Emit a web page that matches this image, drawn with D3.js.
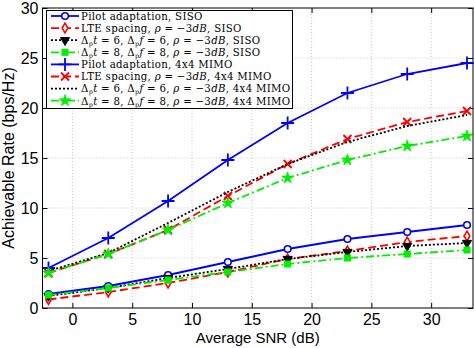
<!DOCTYPE html>
<html>
<head>
<meta charset="utf-8">
<script src="https://cdn.jsdelivr.net/npm/d3@7"></script>
<style>
    body { margin: 0; background: #fff; }
    svg { display: block; }
    .tick text { font-family: "Liberation Sans", Arial, sans-serif; font-size: 16px; }
</style>
</head>
<body>
<svg id="chart" width="474" height="348"></svg>
<script>
// SNR points (dB)
const snr = [-2, 3, 8, 13, 18, 23, 28, 33];

// SISO
const pilotSiso = [1.4, 2.2, 3.3, 4.6, 5.9, 6.9, 7.6, 8.3];
const lteSiso = [0.85, 1.6, 2.5, 3.6, 4.9, 5.7, 6.6, 7.2];
const d6Siso = [1.2, 2.0, 3.0, 3.9, 4.9, 5.6, 6.2, 6.5];
const d8Siso = [1.3, 2.0, 2.8, 3.6, 4.4, 5.0, 5.4, 5.8];

// 4x4 MIMO
const pilotMimo = [4.0, 7.0, 10.7, 14.8, 18.5, 21.5, 23.4, 24.5];
const lteMimo = [3.5, 5.4, 7.8, 11.2, 14.4, 16.9, 18.6, 19.7];
const d6Mimo = [3.7, 5.5, 8.5, 11.6, 14.4, 16.6, 18.2, 19.3];
const d8Mimo = [3.5, 5.4, 7.8, 10.5, 13.0, 14.8, 16.2, 17.2];

const xTicks = [0, 5, 10, 15, 20, 25, 30];
const yTicks = [0, 5, 10, 15, 20, 25, 30];

const svg = d3.select('#chart');
const pLeft = 42.5, pRight = 473, pTop = 8, pBottom = 308;

const x = d3.scaleLinear().domain([-2.5, 33.5]).range([pLeft, pRight]);
const y = d3.scaleLinear().domain([0, 30]).range([pBottom, pTop]);

// grid
const grid = svg.append('g')
    .attr('stroke', '#bdbdbd')
    .attr('stroke-width', 0.8)
    .attr('stroke-dasharray', '1,2');
xTicks.forEach(t => grid.append('line')
    .attr('x1', x(t)).attr('x2', x(t)).attr('y1', pTop).attr('y2', pBottom));
yTicks.slice(1, -1).forEach(t => grid.append('line')
    .attr('x1', pLeft).attr('x2', pRight).attr('y1', y(t)).attr('y2', y(t)));

// axes, ticks pointing inward
svg.append('g')
    .attr('transform', `translate(0,${pBottom})`)
    .call(d3.axisBottom(x).tickValues(xTicks).tickSize(-5).tickPadding(6))
    .call(g => g.select('.domain').remove());
svg.append('g')
    .attr('transform', `translate(0,${pTop})`)
    .call(d3.axisTop(x).tickValues(xTicks).tickSize(-5).tickFormat(''))
    .call(g => g.select('.domain').remove());
svg.append('g')
    .attr('transform', `translate(${pLeft},0)`)
    .call(d3.axisLeft(y).tickValues(yTicks).tickSize(-5).tickPadding(4))
    .call(g => g.select('.domain').remove());
svg.append('g')
    .attr('transform', `translate(${pRight},0)`)
    .call(d3.axisRight(y).tickValues(yTicks).tickSize(-5).tickFormat(''))
    .call(g => g.select('.domain').remove());
svg.selectAll('.tick text').attr('fill', '#000');
svg.selectAll('.tick line').attr('stroke', '#000');

svg.append('text')
    .attr('x', (pLeft + pRight) / 2).attr('y', 343)
    .attr('text-anchor', 'middle')
    .style('font-family', '"Liberation Sans", Arial, sans-serif')
    .style('font-size', '15px')
    .text('Average SNR (dB)');
svg.append('text')
    .attr('transform', `translate(14,${(pTop + pBottom) / 2}) rotate(-90)`)
    .attr('text-anchor', 'middle')
    .style('font-family', '"Liberation Sans", Arial, sans-serif')
    .style('font-size', '16px')
    .text('Achievable Rate (bps/Hz)');

// marker drawing
function marker(g, type, color, cx, cy) {
    if (type === 'circle') {
        g.append('circle').attr('cx', cx).attr('cy', cy).attr('r', 3.3)
            .attr('fill', '#fff').attr('stroke', color).attr('stroke-width', 1.6);
    } else if (type === 'diamond') {
        g.append('path').attr('d', d3.symbol(d3.symbolDiamond, 28)())
            .attr('transform', `translate(${cx},${cy})`)
            .attr('fill', '#fff').attr('stroke', color).attr('stroke-width', 1.6);
    } else if (type === 'triangle') {
        g.append('path').attr('d', d3.symbol(d3.symbolTriangle, 36)())
            .attr('transform', `translate(${cx},${cy}) rotate(180)`)
            .attr('fill', color).attr('stroke', color).attr('stroke-width', 1);
    } else if (type === 'square') {
        g.append('rect').attr('x', cx - 3).attr('y', cy - 3).attr('width', 6).attr('height', 6)
            .attr('fill', color).attr('stroke', color);
    } else if (type === 'plus') {
        g.append('path').attr('d', `M${cx - 6.5},${cy}H${cx + 6.5}M${cx},${cy - 6.5}V${cy + 6.5}`)
            .attr('stroke', color).attr('stroke-width', 1.8);
    } else if (type === 'x') {
        g.append('path').attr('d', `M${cx - 4},${cy - 4}L${cx + 4},${cy + 4}M${cx - 4},${cy + 4}L${cx + 4},${cy - 4}`)
            .attr('stroke', color).attr('stroke-width', 1.8);
    } else if (type === 'star') {
        g.append('path').attr('d', d3.symbol(d3.symbolStar, 42)())
            .attr('transform', `translate(${cx},${cy})`)
            .attr('fill', color).attr('stroke', color).attr('stroke-width', 0.8);
    }
}

const blue = '#0000ff', red = '#ff0000', black = '#000000', green = '#00ee00';
const solid = null, dashed = '8,4', dotted = '2,2', dashdot = '8,3,2,3';

const series = [
    {vals: pilotSiso, color: blue, dash: solid, mark: 'circle'},
    {vals: lteSiso, color: red, dash: dashed, mark: 'diamond'},
    {vals: d6Siso, color: black, dash: dotted, mark: 'triangle'},
    {vals: d8Siso, color: green, dash: dashdot, mark: 'square'},
    {vals: pilotMimo, color: blue, dash: solid, mark: 'plus'},
    {vals: lteMimo, color: red, dash: dashed, mark: 'x'},
    {vals: d6Mimo, color: black, dash: dotted, mark: null},
    {vals: d8Mimo, color: green, dash: dashdot, mark: 'star'}
];

const line = d3.line().x(d => x(d[0])).y(d => y(d[1]));
const plot = svg.append('g');
series.forEach(s => {
    const pts = snr.map((v, i) => [v, s.vals[i]]);
    plot.append('path').datum(pts)
        .attr('d', line)
        .attr('fill', 'none')
        .attr('stroke', s.color)
        .attr('stroke-width', 1.8)
        .attr('stroke-dasharray', s.dash);
    if (s.mark)
        pts.forEach(p => marker(plot, s.mark, s.color, x(p[0]), y(p[1])));
});

// frame
svg.append('rect')
    .attr('x', pLeft).attr('y', pTop)
    .attr('width', pRight - pLeft).attr('height', pBottom - pTop)
    .attr('fill', 'none').attr('stroke', '#000').attr('stroke-width', 1);

// legend
function deltaLabel(n, tail) {
    return [['Δ'], ['p', 'sub'], ['t', 'i'], [` = ${n}, Δ`], ['p', 'sub'], ['f', 'i'], [` = ${n}, `],
        ['ρ', 'i'], [' = −3'], ['dB', 'i'], [tail]];
}
const labels = [
    [['Pilot adaptation, SISO']],
    [['LTE spacing, '], ['ρ', 'i'], [' = −3'], ['dB', 'i'], [', SISO']],
    deltaLabel(6, ', SISO'),
    deltaLabel(8, ', SISO'),
    [['Pilot adaptation, 4x4 MIMO']],
    [['LTE spacing, '], ['ρ', 'i'], [' = −3'], ['dB', 'i'], [', 4x4 MIMO']],
    deltaLabel(6, ', 4x4 MIMO'),
    deltaLabel(8, ', 4x4 MIMO')
];

const lg = svg.append('g');
lg.append('rect').attr('x', 46.5).attr('y', 10.5).attr('width', 246).attr('height', 98)
    .attr('fill', '#fff').attr('stroke', '#000').attr('stroke-width', 1);

series.forEach((s, i) => {
    const cy = 16 + i * 12.1;
    lg.append('line').attr('x1', 51).attr('x2', 79).attr('y1', cy).attr('y2', cy)
        .attr('stroke', s.color).attr('stroke-width', 1.8).attr('stroke-dasharray', s.dash);
    if (s.mark) marker(lg, s.mark, s.color, 65, cy);
    const parts = labels[i];
    const t = lg.append('text').attr('x', 81).attr('y', cy + 3.8)
        .style('font-family', '"DejaVu Serif", "Liberation Serif", serif')
        .style('font-size', '10.2px')
        .style('letter-spacing', '0.3px');
    parts.forEach((p, j) => {
        const ts = t.append('tspan').text(p[0]);
        if (p[1] === 'i') ts.style('font-style', 'italic');
        if (p[1] === 'sub') ts.attr('dy', 2).style('font-size', '6.5px');
        else if (j > 0 && parts[j - 1][1] === 'sub') ts.attr('dy', -2);
    });
});
</script>
</body>
</html>
